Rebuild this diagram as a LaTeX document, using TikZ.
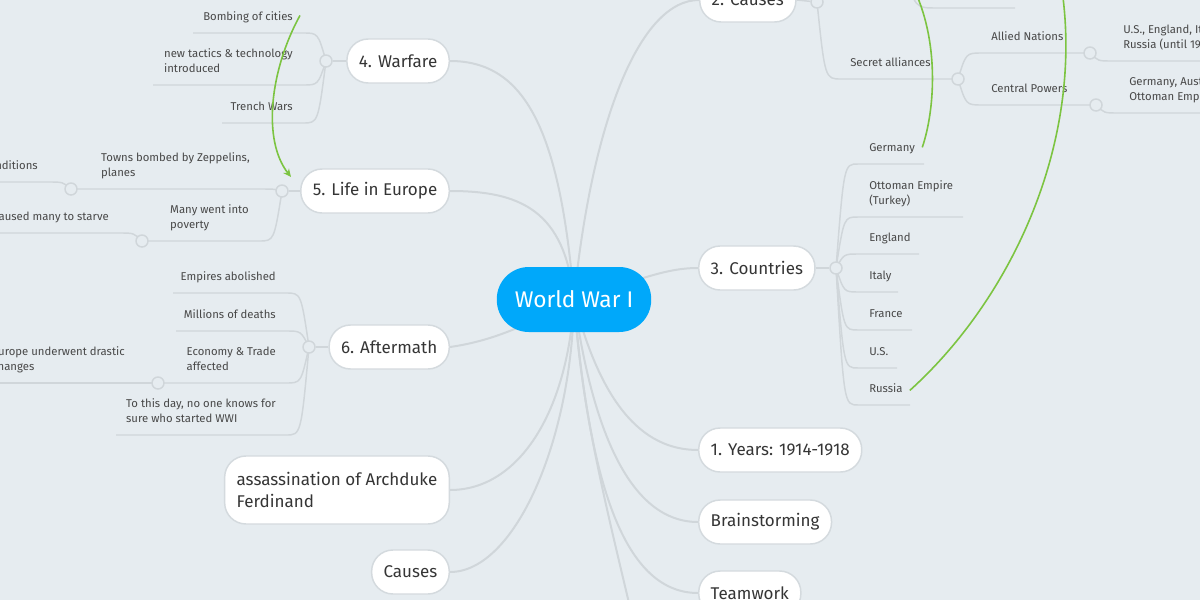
\documentclass[tikz,border=0pt]{standalone}
\usepackage{fontspec}
\setmainfont{Fira Sans}
\usetikzlibrary{arrows.meta}
\definecolor{bgc}{HTML}{E6ECF0}
\definecolor{lnc}{HTML}{D0D6DA}
\definecolor{bdc}{HTML}{D4DADE}
\definecolor{txc}{HTML}{353535}
\definecolor{lbc}{HTML}{484848}
\definecolor{ctr}{HTML}{00A8FA}
\definecolor{grn}{HTML}{7CC441}
\pgfdeclarelayer{bg}
\pgfsetlayers{bg,main}
\tikzset{
  mainnode/.style={draw=bdc, line width=1.1pt, fill=white, rounded corners=16pt,
    inner xsep=9pt, inner ysep=2pt, minimum height=33pt,
    font=\fontsize{12.75}{16.5}\selectfont, text=txc, align=left},
  centernode/.style={fill=ctr, rounded corners=24pt, inner xsep=13.5pt,
    minimum height=48.75pt, font=\fontsize{17}{20}\selectfont, text=white},
  lbl/.style={inner sep=0pt, align=left, font=\fontsize{8.5}{11}\selectfont,
    text=lbc, execute at end node=\strut},
  jn/.style={circle, draw=lnc, fill=bgc, line width=1.1pt, minimum size=9pt, inner sep=0pt},
  link/.style={draw=lnc, line width=1.5pt},
  sub/.style={draw=lnc, line width=1.1pt},
  rel/.style={draw=grn, line width=1.2pt},
}
\newcommand\lkL[4]{\draw[sub] (#1.center) .. controls (#2-8,#3) .. (#2-23,#3) -- (#4,#3);}
\newcommand\lkR[4]{\draw[sub] (#1.center) .. controls (#2+8,#3) .. (#2+22,#3) -- (#4,#3);}
\begin{document}
\begin{tikzpicture}[x=0.75pt, y=-0.75pt]
\useasboundingbox (0,0) rectangle (1200,600);
\clip (0,0) rectangle (1200,600);
\begin{pgfonlayer}{bg}
\fill[bgc] (0,0) rectangle (1200,600);
\end{pgfonlayer}

% central and main nodes
\node[centernode] (ww) at (574,299.5) {World War I};
\node[mainnode, anchor=west] (n2) at (699,0) {2. Causes};
\node[mainnode, anchor=west] (n3) at (698,268) {3. Countries};
\node[mainnode, anchor=west] (n1) at (698,450) {1. Years: 1914-1918};
\node[mainnode, anchor=west] (nb) at (698,522) {Brainstorming};
\node[mainnode, anchor=west] (nt) at (698,593) {Teamwork};
\node[mainnode, anchor=east] (n4) at (450,61) {4. Warfare};
\node[mainnode, anchor=east] (n5) at (450,191) {5. Life in Europe};
\node[mainnode, anchor=east] (n6) at (450,347) {6. Aftermath};
\node[mainnode, anchor=east, minimum height=51pt] (na) at (450,490) {assassination of Archduke\\Ferdinand};
\node[mainnode, anchor=east] (nc) at (450,572) {Causes};
\coordinate (offb) at (640,650);

% junctions
\node[jn] (j2) at (817,2) {};
\node[jn] (j3) at (836,268) {};
\node[jn] (j4) at (326,61) {};
\node[jn] (j5) at (282,191) {};
\node[jn] (j6) at (309,347) {};
\node[jn] (jtw) at (71,189) {};
\node[jn] (jpv) at (142,241) {};
\node[jn] (jec) at (158,383) {};
\node[jn] (jsa) at (958,79) {};
\node[jn] (jal) at (1090,53) {};
\node[jn] (jcp) at (1096,105) {};
\coordinate (jhid) at (905,-30);

% labels: Warfare
\node[lbl, anchor=south east] (lbomb) at (293,25) {Bombing of cities};
\node[lbl, anchor=south east] (ltac) at (293,77) {new tactics \& technology\\introduced};
\node[lbl, anchor=south east] (ltr) at (293,115) {Trench Wars};
% Life in Europe
\node[lbl, anchor=south east] (ltown) at (250,181) {Towns bombed by Zeppelins,\\planes};
\node[lbl, anchor=south east] (lpov) at (249,233) {Many went into\\poverty};
\node[lbl, anchor=south east] (lcond) at (38,174) {conditions};
\node[lbl, anchor=south east] (lstarve) at (109,225) {caused many to starve};
% Aftermath
\node[lbl, anchor=south east] (lemp) at (276,285) {Empires abolished};
\node[lbl, anchor=south east] (lmil) at (276,323) {Millions of deaths};
\node[lbl, anchor=south east] (leco) at (276,375) {Economy \& Trade\\affected};
\node[lbl, anchor=south east] (lday) at (276,427) {To this day, no one knows for\\sure who started WWI};
\node[lbl, anchor=south east] (leur) at (125,375) {Europe underwent drastic\\changes};
% Causes
\node[lbl, anchor=south west] (lsec) at (850,71) {Secret alliances};
\node[lbl, anchor=south west] (lall) at (991,45) {Allied Nations};
\node[lbl, anchor=south west] (lcen) at (991,97) {Central Powers};
\node[lbl, anchor=south west] (lalm) at (1123,53) {U.S., England, Italy, France,\\Russia (until 1917)};
\node[lbl, anchor=south west] (lcem) at (1129,105) {Germany, Austria-Hungary,\\Ottoman Empire};
% Countries
\node[lbl, anchor=south west] (cger) at (869,156) {Germany};
\node[lbl, anchor=south west] (cott) at (869,209) {Ottoman Empire\\(Turkey)};
\node[lbl, anchor=south west] (ceng) at (869,246) {England};
\node[lbl, anchor=south west] (cita) at (869,284) {Italy};
\node[lbl, anchor=south west] (cfra) at (869,322) {France};
\node[lbl, anchor=south west] (cus) at (869,360) {U.S.};
\node[lbl, anchor=south west] (crus) at (869,397) {Russia};

\begin{pgfonlayer}{bg}
% central links
\draw[link] (ww.center) .. controls (592,120) and (640,0) .. (n2.west);
\draw[link] (ww.center) .. controls (560,130) and (525,61) .. (n4.east);
\draw[link] (ww.center) .. controls (565,210) and (520,191) .. (n5.east);
\draw[link] (ww.center) .. controls (520,330) and (485,342) .. (n6.east);
\draw[link] (ww.center) .. controls (640,280) and (665,268) .. (n3.west);
\draw[link] (ww.center) .. controls (600,400) and (640,450) .. (n1.west);
\draw[link] (ww.center) .. controls (592,430) and (630,522) .. (nb.west);
\draw[link] (ww.center) .. controls (588,470) and (620,593) .. (nt.west);
\draw[link] (ww.center) .. controls (582,420) and (610,520) .. (offb);
\draw[link] (ww.center) .. controls (568,410) and (520,490) .. (na.east);
\draw[link] (ww.center) .. controls (572,440) and (515,572) .. (nc.east);
% node to junction
\draw[sub] (n2.east) -- (j2);
\draw[sub] (n3.east) -- (j3);
\draw[sub] (n4.west) -- (j4);
\draw[sub] (n5.west) -- (j5);
\draw[sub] (n6.west) -- (j6);
% Warfare children
\lkL{j4}{326}{33}{193}
\lkL{j4}{326}{85}{153}
\lkL{j4}{326}{123}{222}
% Life children
\draw[sub] (j5.center) .. controls (274,189) .. (259,189) -- (jtw.center);
\draw[sub] (j5.center) .. controls (274,241) .. (259,241) -- (jpv.center);
\lkL{jtw}{71}{182}{-10}
\lkL{jpv}{142}{233}{-10}
% Aftermath children
\lkL{j6}{309}{293}{173}
\lkL{j6}{309}{331}{176}
\draw[sub] (j6.center) .. controls (301,383) .. (286,383) -- (jec.center);
\lkL{j6}{309}{435}{116}
\draw[sub] (jec.center) -- (-10,383);
% Causes children
\draw[sub] (j2.center) .. controls (825,-45) .. (840,-45) -- (jhid);
\draw[sub] (jhid) .. controls (915,8) .. (937,8) -- (1015,8);
\draw[sub] (j2.center) .. controls (825,79) .. (841,79) -- (jsa.center);
\draw[sub] (jsa.center) .. controls (966,53) .. (982,53) -- (jal.center);
\draw[sub] (jsa.center) .. controls (966,105) .. (982,105) -- (jcp.center);
\lkR{jal}{1090}{61}{1210}
\lkR{jcp}{1096}{113}{1210}
% Countries children
\lkR{j3}{836}{164}{924}
\lkR{j3}{836}{217}{963}
\lkR{j3}{836}{254}{919}
\lkR{j3}{836}{292}{898}
\lkR{j3}{836}{330}{912}
\lkR{j3}{836}{368}{897}
\lkR{j3}{836}{405}{910}
\end{pgfonlayer}

% relationship lines
\coordinate (g1e) at (291,177);
\draw[rel, -{Stealth[length=6pt, width=5.5pt]}] (lbomb.east) ++(7,-2)
  .. controls (270,70) and (262,140) .. (g1e);
\draw[rel] (cger.east) ++(7,-1) .. controls (935,110) and (940,40) .. (912,-15);
\draw[rel] (crus.east) ++(7,1) .. controls (1010,300) and (1084,145) .. (1062,-10);
\end{tikzpicture}
\end{document}
